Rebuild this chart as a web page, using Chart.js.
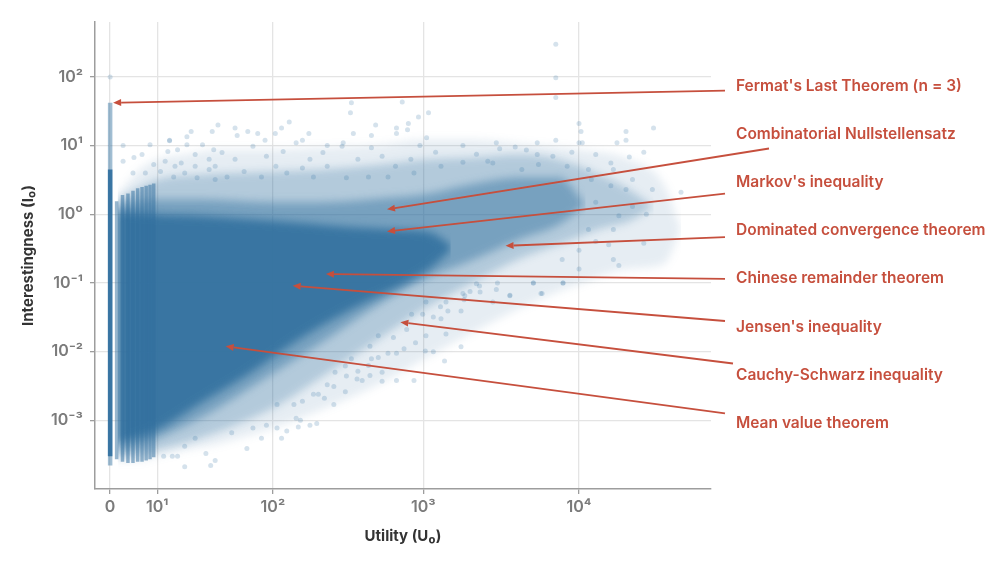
<!DOCTYPE html>
<html>
<head>
<meta charset="utf-8">
<script src="https://cdn.jsdelivr.net/npm/chart.js@4.4.1/dist/chart.umd.min.js"></script>
<style>
  html, body { margin: 0; padding: 0; background: #fff; }
  #wrap { width: 1001px; height: 562px; }
</style>
</head>
<body>
<div id="wrap"><canvas id="chart-canvas"></canvas></div>
<script>
// ---- axis ticks ----
const uTickValues = [0, 10, 100, 1000, 10000];
const uTickLabels = ["0", "10¹", "10²", "10³", "10⁴"];
const iTickValues = [1e-3, 1e-2, 1e-1, 1, 10, 100];
const iTickLabels = ["10⁻³", "10⁻²", "10⁻¹", "10⁰", "10¹", "10²"];

// ---- annotated theorems ----
const theoremNames = [
    "Fermat's Last Theorem (n = 3)",
    "Combinatorial Nullstellensatz",
    "Markov's inequality",
    "Dominated convergence theorem",
    "Chinese remainder theorem",
    "Jensen's inequality",
    "Cauchy-Schwarz inequality",
    "Mean value theorem",
];
const theoremU = [0, 556, 556, 3236, 220, 131, 679, 42.5];
const theoremI = [42, 1.16, 0.556, 0.346, 0.135, 0.092, 0.0272, 0.0121];

// ---- the cloud ----
// U0 = 0 column (faint full extent, solid body)
const zeroColFaint = [42, 2.2e-4];
const zeroColSolid = [4.5, 3.0e-4];

// small integer utilities stack up into columns
const columnU = [1, 2, 3, 4, 5, 6, 7, 8, 9];
const columnTop = [1.55, 1.9, 2.0, 2.2, 2.4, 2.5, 2.6, 2.7, 2.8];
const columnBottom = [2.7e-4, 2.5e-4, 2.4e-4, 2.4e-4, 2.5e-4, 2.5e-4, 2.6e-4, 2.7e-4, 2.9e-4];

// density envelopes, outer haze -> core (ends pinch to a point)
const hazeU = [1.2, 5.5, 10, 20, 40, 100, 210, 520, 1020, 2000, 4800, 10000, 21000, 35000, 45000];
const hazeHigh = [1.95, 4.49, 6.27, 7.4, 8.75, 8.75, 9.35, 10.3, 12.2, 12.2, 10.3, 8.75, 6.27, 2.72, 0.6];
const hazeLow = [2.6e-4, 2.6e-4, 3.0e-4, 3.7e-4, 4.6e-4, 7.7e-4, 1.4e-3, 3.4e-3, 7.9e-3, 0.0182, 0.0497, 0.0967, 0.16, 0.188, 0.6];

const midU = [1.2, 10, 27.6, 100, 210, 520, 1020, 2000, 4160, 7500, 13500, 21000, 30000];
const midHigh = [1.65, 3.2, 3.8, 4.2, 4.49, 5.3, 6.27, 6.7, 7.4, 6.27, 3.8, 2.3, 1.3];
const midLow = [2.8e-4, 3.7e-4, 5.5e-4, 1.5e-3, 4.1e-3, 0.0154, 0.042, 0.0967, 0.223, 0.367, 0.607, 0.79, 1.3];

const denseU = [1.2, 10, 27.6, 100, 210, 520, 1020, 2000, 4160, 7500, 11000];
const denseHigh = [1.4, 1.65, 1.65, 1.5, 1.5, 1.7, 1.95, 2.72, 3.44, 3.44, 1.4];
const denseLow = [3.3e-4, 5.5e-4, 1.07e-3, 4.8e-3, 0.013, 0.0497, 0.114, 0.208, 0.434, 0.716, 1.4];

const coreU = [1.2, 10, 27.6, 68, 154, 332, 703, 1100, 1500];
const coreHigh = [1.1, 1.0, 0.95, 0.85, 0.75, 0.65, 0.6, 0.55, 0.36];
const coreLow = [4.6e-4, 7.2e-4, 1.76e-3, 4.8e-3, 0.0154, 0.04, 0.09, 0.16, 0.3];

// individual theorems away from the bulk [utility, interestingness]
const strayPoints = [
    [2.1,10],[8,10.3],[14,11.8],[21,13.5],[21,10.3],[29,10.3],[17,8.7],[2.1,5.9],[4.2,6.7],[6,7.4],
    [9,5.3],[12.5,5.9],[13.4,8.2],[16,5],[18.5,5.6],[25,7.4],[33,6.3],[36,8.7],[4,4],[6.8,4],
    [11,4.2],[15.5,3.5],[20,4],[26,3.4],[33,4.5],[37,3.2],[25,5],
    [39,20],[23,16],[53,18],[66,16],[78,15],[115,18],[130,22],[177,15],[340,42],[335,30],
    [490,20],[350,15],[670,15],[790,17],[14,12],[35,16],[55,14],[88,12],[104,15],[160,12],
    [235,10],[300,11],[460,14],[950,10],
    [118,8.2],[145,11],[90,7],[72,9.8],[53,6.3],[42,7.9],[180,6.3],[220,7.9],[235,5],[295,9.8],
    [375,6.3],[460,9.3],[540,7],[660,5],[830,6.3],[870,4],[590,3.5],[440,3.5],[315,3.4],[190,3.5],
    [125,4],[83,3.5],[62,4.2],[46,3.5],[105,5],[160,4.7],[37,5],
    [0,100],
    [7100,300],[7100,97],[7100,50],[730,43],[670,18],[800,21],[930,26],[1080,30],[1050,13],
    [10000,21],[10300,16],[10000,11],[10500,11],[30000,18],[20000,16],[20000,12],[17500,11],
    [2950,11],[3100,9],[5400,11],[7100,12],[45000,2.1],[29500,2.3],[26000,8],[21000,6.8],
    [16000,5.6],[12800,7.4],[9000,8],[6800,7],[4600,8.6],[5400,7.4],[4300,4.5],[5500,5.3],
    [8400,5],[11500,4.5],[16600,4.5],[22000,3.2],[20000,2.3],[16000,2.6],[12000,3.2],[12800,1.5],
    [22000,1.3],[27000,1.0],[18000,0.95],[16600,0.6],[12800,0.4],[11500,0.6],[26000,0.38],
    [15500,0.36],[16600,0.22],[18000,0.18],[10000,0.3],[7800,0.22],[10000,0.16],[7900,0.1],
    [5100,0.1],[5800,0.07],[3600,0.065],[2950,0.08],[2300,0.09],[1850,0.065],[2800,0.053],
    [1400,0.053],[1300,0.03],[990,0.035],[2000,0.075],
    [1300,5],[1800,5.7],[2600,5.9],[2800,5.6],[1800,10],[1200,8],[3900,9.5],[2200,7.5],
    [1370,0.0073],[1750,0.0118],[1160,0.01],[1030,0.0102],[870,0.0038],[670,0.0038],[540,0.0037],
    [450,0.0045],[370,0.004],[310,0.0026],[260,0.0017],[200,0.0009],[150,0.0008],[125,0.0007],
    [115,0.00055],[145,0.00107],[155,0.001],[140,0.0017],[260,0.0031],[205,0.0024],[310,0.0062],
    [375,0.0052],[440,0.0063],[510,0.0082],[670,0.0095],[340,0.0079],[890,0.0135],[1040,0.017],
    [1400,0.018],[750,0.011],[590,0.0095],[1160,0.032],[1440,0.039],[1750,0.039],[1290,0.045],
    [1830,0.057],[2320,0.074],[3610,0.066],[5700,0.07],[5100,0.1],[7900,0.1],[3000,0.1],
    [2200,0.097],[1800,0.07],[1040,0.053],[840,0.035],[780,0.021],[640,0.016],[510,0.017],
    [450,0.012],
    [25,0.00055],[31,0.00033],[37,0.00026],[65,0.00039],[50,0.00066],[72,0.00077],[90,0.00085],
    [107,0.00077],[180,0.00085],[83,0.00055],[20,0.00042],[15,0.0003],[17,0.0003],[12,0.0003],
    [20,0.00021],[34,0.00022],[190,0.0024],[265,0.005],[315,0.0044],[400,0.0038],[540,0.005],
    [460,0.0079],[235,0.0033],[225,0.0021],[160,0.0019],[107,0.0017],
];

// ---- styling ----
const BLUE = "47, 110, 158";
const RED = "#c64f3d";
const GRID = "#e4e4e4";
const SPINE = "#9d9d9d";
const TICK_TEXT = "#7b7b7b";
const TITLE_TEXT = "#333333";
const FONT = "Inter, 'Noto Sans', sans-serif";

// label column to the right of the plot
const LABEL = { inset: 25, firstRow: 64, rowGap: 48.2, size: 15.5 };
// arrow tails relative to each label's left/middle
const tailOffsets = [[-11, 4.7], [33, 14.3], [-11, 11.3], [-11, 6.6], [-11, 0], [-11, -6], [-3, -11.7], [-11, -10]];
const ARROW = { shrink: 3, head: 8, half: 3.5, width: 1.8 };

// x axis: log10(U + 10), so 0 sits just inside the left edge
const SHIFT = 10;
class ShiftedLogScale extends Chart.Scale {
    static id = "shiftedLog";
    static defaults = {};
    parse(raw, index) {
        return Chart.LinearScale.prototype.parse.apply(this, [raw, index]);
    }
    determineDataLimits() {
        this.min = this.options.min;
        this.max = this.options.max;
    }
    buildTicks() {
        return uTickValues.map(v => ({ value: v }));
    }
    configure() {
        super.configure();
        this._start = Math.log10(this.min + SHIFT);
        this._range = Math.log10(this.max + SHIFT) - this._start;
    }
    getPixelForValue(value) {
        return this.getPixelForDecimal((Math.log10(value + SHIFT) - this._start) / this._range);
    }
    getValueForPixel(pixel) {
        return Math.pow(10, this._start + this.getDecimalForPixel(pixel) * this._range) - SHIFT;
    }
}
Chart.register(ShiftedLogScale);

function band(u, low, high, alpha) {
    const common = { type: "line", borderColor: "transparent", pointRadius: 0, cubicInterpolationMode: "monotone", haze: true };
    return [
        { ...common, data: u.map((v, i) => ({ x: v, y: low[i] })), fill: false },
        { ...common, data: u.map((v, i) => ({ x: v, y: high[i] })), fill: "-1", backgroundColor: `rgba(${BLUE}, ${alpha})` },
    ];
}

function column(u, top, bottom, width, alpha) {
    return {
        type: "line",
        data: [{ x: u, y: top }, { x: u, y: bottom }],
        borderColor: `rgba(${BLUE}, ${alpha})`,
        borderWidth: width,
        pointRadius: 0,
        fill: false,
    };
}

// blur the density layers only; fills are drawn by the filler in beforeDatasetDraw,
// so the filter for the next dataset is set once the previous one is finished
function setHaze(chart, index) {
    const ds = chart.data.datasets[index];
    chart.ctx.filter = ds && ds.haze ? "blur(4px)" : "none";
}
const hazePlugin = {
    id: "haze",
    beforeDatasetsDraw(chart) { setHaze(chart, chart.data.datasets.length - 1); },
    afterDatasetDraw(chart, args) { setHaze(chart, args.index - 1); },
    afterDatasetsDraw(chart) { chart.ctx.filter = "none"; },
};

function drawArrow(ctx, sx, sy, tx, ty) {
    const a = Math.atan2(ty - sy, tx - sx);
    const cos = Math.cos(a), sin = Math.sin(a);
    const tipX = tx - cos * ARROW.shrink, tipY = ty - sin * ARROW.shrink;
    const baseX = tipX - cos * ARROW.head, baseY = tipY - sin * ARROW.head;
    ctx.beginPath();
    ctx.moveTo(sx, sy);
    ctx.lineTo(baseX, baseY);
    ctx.stroke();
    ctx.beginPath();
    ctx.moveTo(tipX, tipY);
    ctx.lineTo(baseX + sin * ARROW.half, baseY - cos * ARROW.half);
    ctx.lineTo(baseX - sin * ARROW.half, baseY + cos * ARROW.half);
    ctx.closePath();
    ctx.fill();
}

const labelPlugin = {
    id: "theoremLabels",
    afterDatasetsDraw(chart) {
        const { ctx, chartArea, scales } = chart;
        ctx.save();
        ctx.font = `600 ${LABEL.size}px ${FONT}`;
        ctx.fillStyle = RED;
        ctx.strokeStyle = RED;
        ctx.lineWidth = ARROW.width;
        ctx.textAlign = "left";
        ctx.textBaseline = "middle";
        theoremNames.forEach((name, i) => {
            const lx = chartArea.right + LABEL.inset;
            const ly = chartArea.top + LABEL.firstRow + i * LABEL.rowGap;
            ctx.fillText(name, lx, ly);
            const [dx, dy] = tailOffsets[i];
            drawArrow(ctx, lx + dx, ly + dy,
                scales.x.getPixelForValue(theoremU[i]),
                scales.y.getPixelForValue(theoremI[i]));
        });
        ctx.restore();
    },
};

const datasets = [
    {
        type: "scatter",
        data: strayPoints.map(([u, v]) => ({ x: u, y: v })),
        backgroundColor: `rgba(${BLUE}, 0.2)`,
        borderWidth: 0,
        pointRadius: 2.5,
    },
    column(0, zeroColSolid[0], zeroColSolid[1], 4.5, 0.9),
    column(0, zeroColFaint[0], zeroColFaint[1], 4.5, 0.45),
    ...columnU.map((u, i) => column(u, columnTop[i], columnBottom[i], 3.5, 0.5)),
    ...band(coreU, coreLow, coreHigh, 0.85),
    ...band(denseU, denseLow, denseHigh, 0.45),
    ...band(midU, midLow, midHigh, 0.28),
    ...band(hazeU, hazeLow, hazeHigh, 0.12),
];

new Chart("chart-canvas", {
    type: "scatter",
    data: { datasets: datasets },
    options: {
        responsive: true,
        maintainAspectRatio: false,
        animation: false,
        events: [],
        layout: { padding: { top: 22, right: 290, left: 0, bottom: 0 } },
        plugins: {
            legend: { display: false },
            tooltip: { enabled: false },
            filler: { drawTime: "beforeDatasetDraw" },
        },
        scales: {
            x: {
                type: "shiftedLog",
                axis: "x",
                position: "bottom",
                min: -2,
                max: 70000,
                grid: { color: GRID, lineWidth: 1.3, tickColor: SPINE, tickLength: 5, tickWidth: 1.3 },
                border: { color: SPINE, width: 1.5 },
                ticks: {
                    callback: (v, i) => uTickLabels[i],
                    color: TICK_TEXT,
                    font: { family: FONT, size: 16, weight: "600" },
                    padding: 4,
                    maxRotation: 0,
                    autoSkip: false,
                },
                title: {
                    display: true,
                    text: "Utility (U₀)",
                    color: TITLE_TEXT,
                    font: { family: FONT, size: 15, weight: "700" },
                    padding: { top: 0, bottom: 17 },
                },
                afterFit: s => { s.height = 73; },
            },
            y: {
                type: "logarithmic",
                position: "left",
                min: 1e-4,
                max: 630,
                afterBuildTicks: s => { s.ticks = iTickValues.map(v => ({ value: v })); },
                grid: { color: GRID, lineWidth: 1.3, tickColor: SPINE, tickLength: 5, tickWidth: 1.3 },
                border: { color: SPINE, width: 1.5 },
                ticks: {
                    callback: (v, i) => iTickLabels[i],
                    color: TICK_TEXT,
                    font: { family: FONT, size: 16, weight: "600" },
                    padding: 7,
                    autoSkip: false,
                },
                title: {
                    display: true,
                    text: "Interestingness (I₀)",
                    color: TITLE_TEXT,
                    font: { family: FONT, size: 15, weight: "700" },
                    padding: { top: 19, bottom: 0 },
                },
                afterFit: s => { s.width = 95; },
            },
        },
    },
    plugins: [hazePlugin, labelPlugin],
});
</script>
</body>
</html>
